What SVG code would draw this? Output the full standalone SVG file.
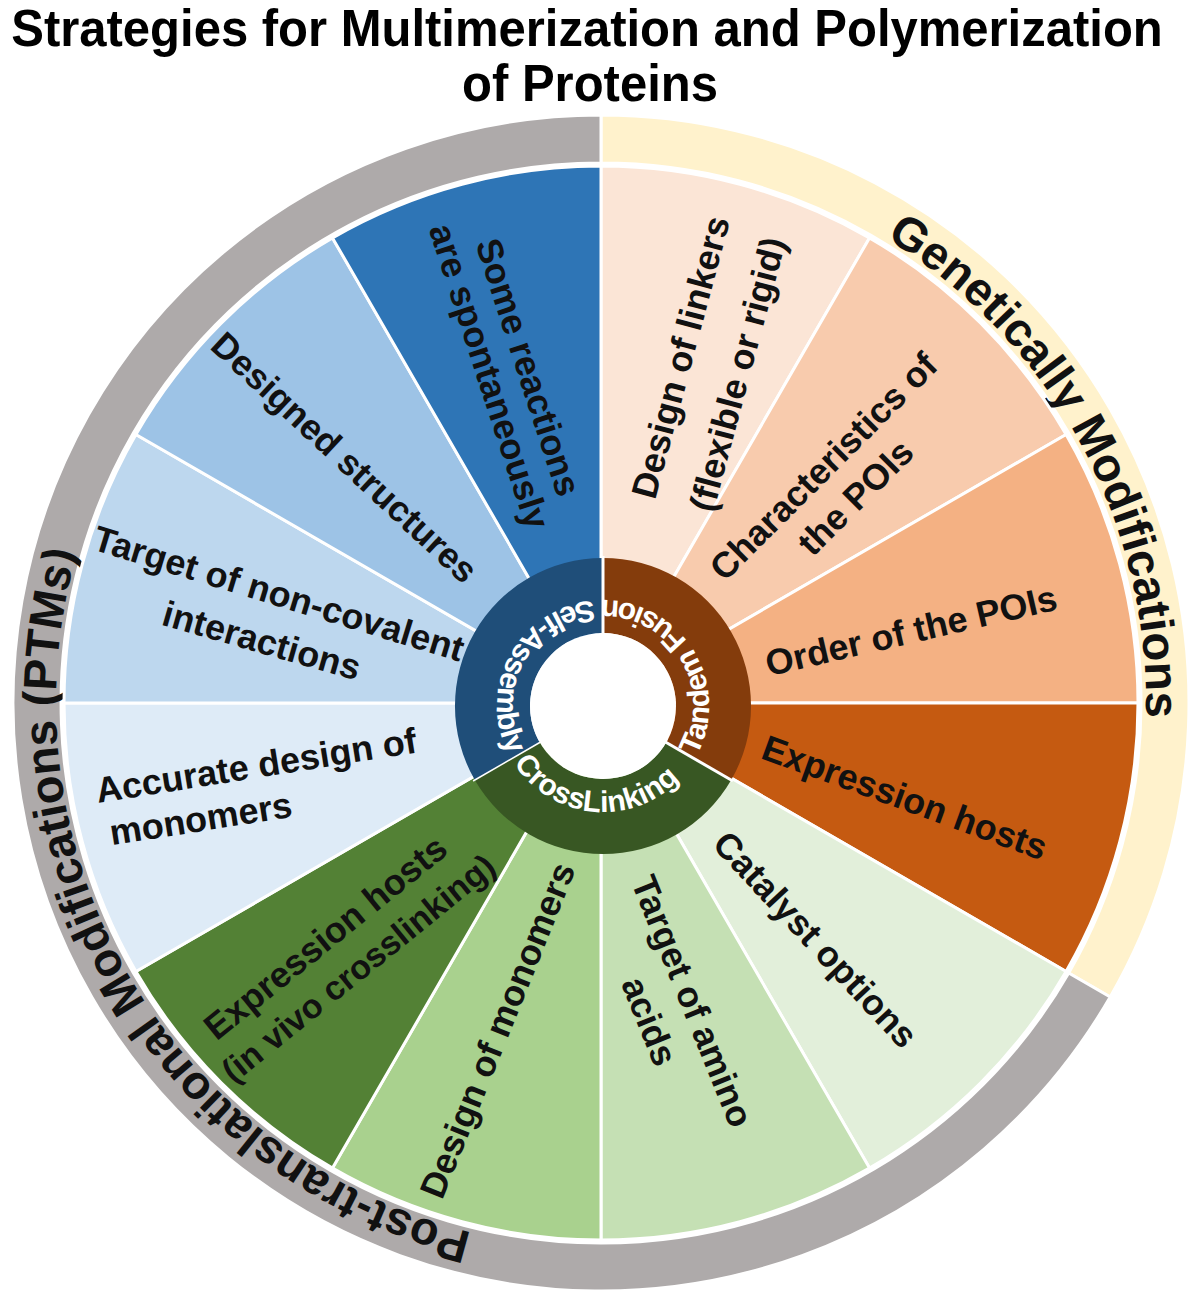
<svg xmlns="http://www.w3.org/2000/svg" width="1200" height="1299" viewBox="0 0 1200 1299">
<style>
  text { font-family: "Liberation Sans", Arial, Helvetica, sans-serif; font-weight: bold; }
  .title { font-size: 49px; fill: #000; text-anchor: middle; }
  .lbl { font-size: 36px; fill: #111; text-anchor: middle; }
  .sub { font-size: 34px; }
  .ring { font-size: 47px; fill: #111; }
  .core { font-size: 30px; fill: #fff; }
  .seg { stroke: #fff; stroke-width: 3; stroke-linejoin: round; }
  .band { stroke: #fff; stroke-width: 3; }
  .div { stroke: #fff; stroke-width: 3; }
</style>
<defs>
  <path id="pGM" d="M885.8,238.3 A545,545 0 0 1 1137.7,797.6" fill="none"/>
  <path id="pPTM" d="M471.9,1232.5 A545,545 0 0 1 88.9,516.6" fill="none"/>
  <path id="pSA" d="M599.3,600.1 A106,106 0 0 0 512.1,760.6" fill="none"/>
  <path id="pTF" d="M697.8,753.5 A106,106 0 0 0 604.1,600.0" fill="none"/>
  <path id="pCL" d="M507.7,752.5 A106,106 0 0 0 687.7,769.8" fill="none"/>
</defs>
<rect x="0" y="0" width="1200" height="1299" fill="#fff"/>

<g id="title">
  <text class="title" transform="translate(587,46) scale(1,1.06)">Strategies for Multimerization and Polymerization</text>
  <text class="title" transform="translate(590,101) scale(1,1.06)">of Proteins</text>
</g>

<g id="band-genetic">
  <path class="band" fill="#FFF2CC" d="M601,115 A588,588 0 0 1 1110.2,997 L1068.7,973 A540,540 0 0 0 601,163 Z"/>
  <text class="ring"><textPath href="#pGM" textLength="571" lengthAdjust="spacingAndGlyphs">Genetically Modifications</textPath></text>
</g>
<g id="band-ptm">
  <path class="band" fill="#AEAAAA" d="M1110.2,997 A588,588 0 1 1 601,115 L601,163 A540,540 0 1 0 1068.7,973 Z"/>
  <text class="ring"><textPath href="#pPTM" textLength="878" lengthAdjust="spacingAndGlyphs">Post-translational Modifications (PTMs)</textPath></text>
</g>

<g id="seg-linkers">
  <path class="seg" fill="#FBE5D6" d="M601,703 L601,166 A537,537 0 0 1 869.5,237.9 Z"/>
</g>
<g id="seg-characteristics">
  <path class="seg" fill="#F8CBAD" d="M601,703 L869.5,237.9 A537,537 0 0 1 1066.1,434.5 Z"/>
</g>
<g id="seg-order">
  <path class="seg" fill="#F4B183" d="M601,703 L1066.1,434.5 A537,537 0 0 1 1138,703 Z"/>
</g>
<g id="seg-expression">
  <path class="seg" fill="#C55A11" d="M601,703 L1138,703 A537,537 0 0 1 1066.1,971.5 Z"/>
</g>
<g id="seg-catalyst">
  <path class="seg" fill="#E2EFDA" d="M601,703 L1066.1,971.5 A537,537 0 0 1 869.5,1168.1 Z"/>
</g>
<g id="seg-amino">
  <path class="seg" fill="#C5E0B4" d="M601,703 L869.5,1168.1 A537,537 0 0 1 601,1240 Z"/>
</g>
<g id="seg-design-monomers">
  <path class="seg" fill="#A9D18E" d="M601,703 L601,1240 A537,537 0 0 1 332.5,1168.1 Z"/>
</g>
<g id="seg-invivo">
  <path class="seg" fill="#538135" d="M601,703 L332.5,1168.1 A537,537 0 0 1 135.9,971.5 Z"/>
</g>
<g id="seg-accurate">
  <path class="seg" fill="#DEEBF7" d="M601,703 L135.9,971.5 A537,537 0 0 1 64,703 Z"/>
</g>
<g id="seg-noncovalent">
  <path class="seg" fill="#BDD7EE" d="M601,703 L64,703 A537,537 0 0 1 135.9,434.5 Z"/>
</g>
<g id="seg-designed">
  <path class="seg" fill="#9DC3E6" d="M601,703 L135.9,434.5 A537,537 0 0 1 332.5,237.9 Z"/>
</g>
<g id="seg-spontaneous">
  <path class="seg" fill="#2E75B6" d="M601,703 L332.5,237.9 A537,537 0 0 1 601,166 Z"/>
</g>

<g id="labels">
  <text class="lbl" transform="translate(680,357) rotate(-75)" y="13">Design of linkers</text>
  <text class="lbl" transform="translate(737,374) rotate(-75)" y="13">(flexible or rigid)</text>
  <text class="lbl" transform="translate(823,466) rotate(-45)" y="13">Characteristics of</text>
  <text class="lbl" transform="translate(855,497) rotate(-45)" y="13">the POIs</text>
  <text class="lbl" transform="translate(911,630) rotate(-13)" y="13">Order of the POIs</text>
  <text class="lbl" transform="translate(905,797) rotate(20)" y="13">Expression hosts</text>
  <text class="lbl" transform="translate(816,939) rotate(47)" y="13">Catalyst options</text>
  <text class="lbl" transform="translate(693,1001) rotate(68)" y="13">Target of amino</text>
  <text class="lbl" transform="translate(650,1021) rotate(68)" y="13">acids</text>
  <text class="lbl" transform="translate(497,1030) rotate(-68)" y="13">Design of monomers</text>
  <text class="lbl" transform="translate(325,937) rotate(-39)" y="13">Expression hosts</text>
  <text class="lbl sub" transform="translate(358,968) rotate(-39)" y="12">(in vivo crosslinking)</text>
  <text class="lbl" transform="translate(98,803) rotate(-9)" style="text-anchor:start">Accurate design of</text>
  <text class="lbl" transform="translate(98,803) rotate(-9)" y="44" x="7" style="text-anchor:start">monomers</text>
  <text class="lbl" transform="translate(279,593) rotate(17)" y="13">Target of non-covalent</text>
  <text class="lbl" transform="translate(262,640) rotate(16)" y="13">interactions</text>
  <text class="lbl" transform="translate(345,457) rotate(43)" y="13">Designed structures</text>
  <text class="lbl" transform="translate(529,367) rotate(72)" y="13">Some reactions</text>
  <text class="lbl" transform="translate(490,376) rotate(72)" y="13">are spontaneously</text>
</g>

<g id="core-self-assembly">
  <path fill="#1F4E79" d="M474.8,780 A148,148 0 0 1 603,558 L603,633 A73,73 0 0 0 539.8,742.5 Z"/>
  <text class="core"><textPath href="#pSA" startOffset="50%" text-anchor="middle">Self-Assembly</textPath></text>
</g>
<g id="core-tandem-fusion">
  <path fill="#843C0C" d="M603,558 A148,148 0 0 1 731.2,780 L666.2,742.5 A73,73 0 0 0 603,633 Z"/>
  <text class="core"><textPath href="#pTF" startOffset="50%" text-anchor="middle">Tandem Fusion</textPath></text>
</g>
<g id="core-crosslinking">
  <path fill="#385723" d="M731.2,780 A148,148 0 0 1 474.8,780 L539.8,742.5 A73,73 0 0 0 666.2,742.5 Z"/>
  <text class="core"><textPath href="#pCL" startOffset="50%" text-anchor="middle">CrossLinking</textPath></text>
</g>
<g id="core-dividers">
  <line class="div" x1="603" y1="556" x2="603" y2="634"/>
  <line class="div" x1="665.4" y1="742" x2="732.9" y2="781"/>
  <line class="div" x1="540.6" y1="742" x2="473.1" y2="781" style="stroke-width:1.5"/>
</g>
<circle id="hub" cx="603" cy="706" r="73" fill="#fff"/>
<g id="connectors"/>
</svg>
